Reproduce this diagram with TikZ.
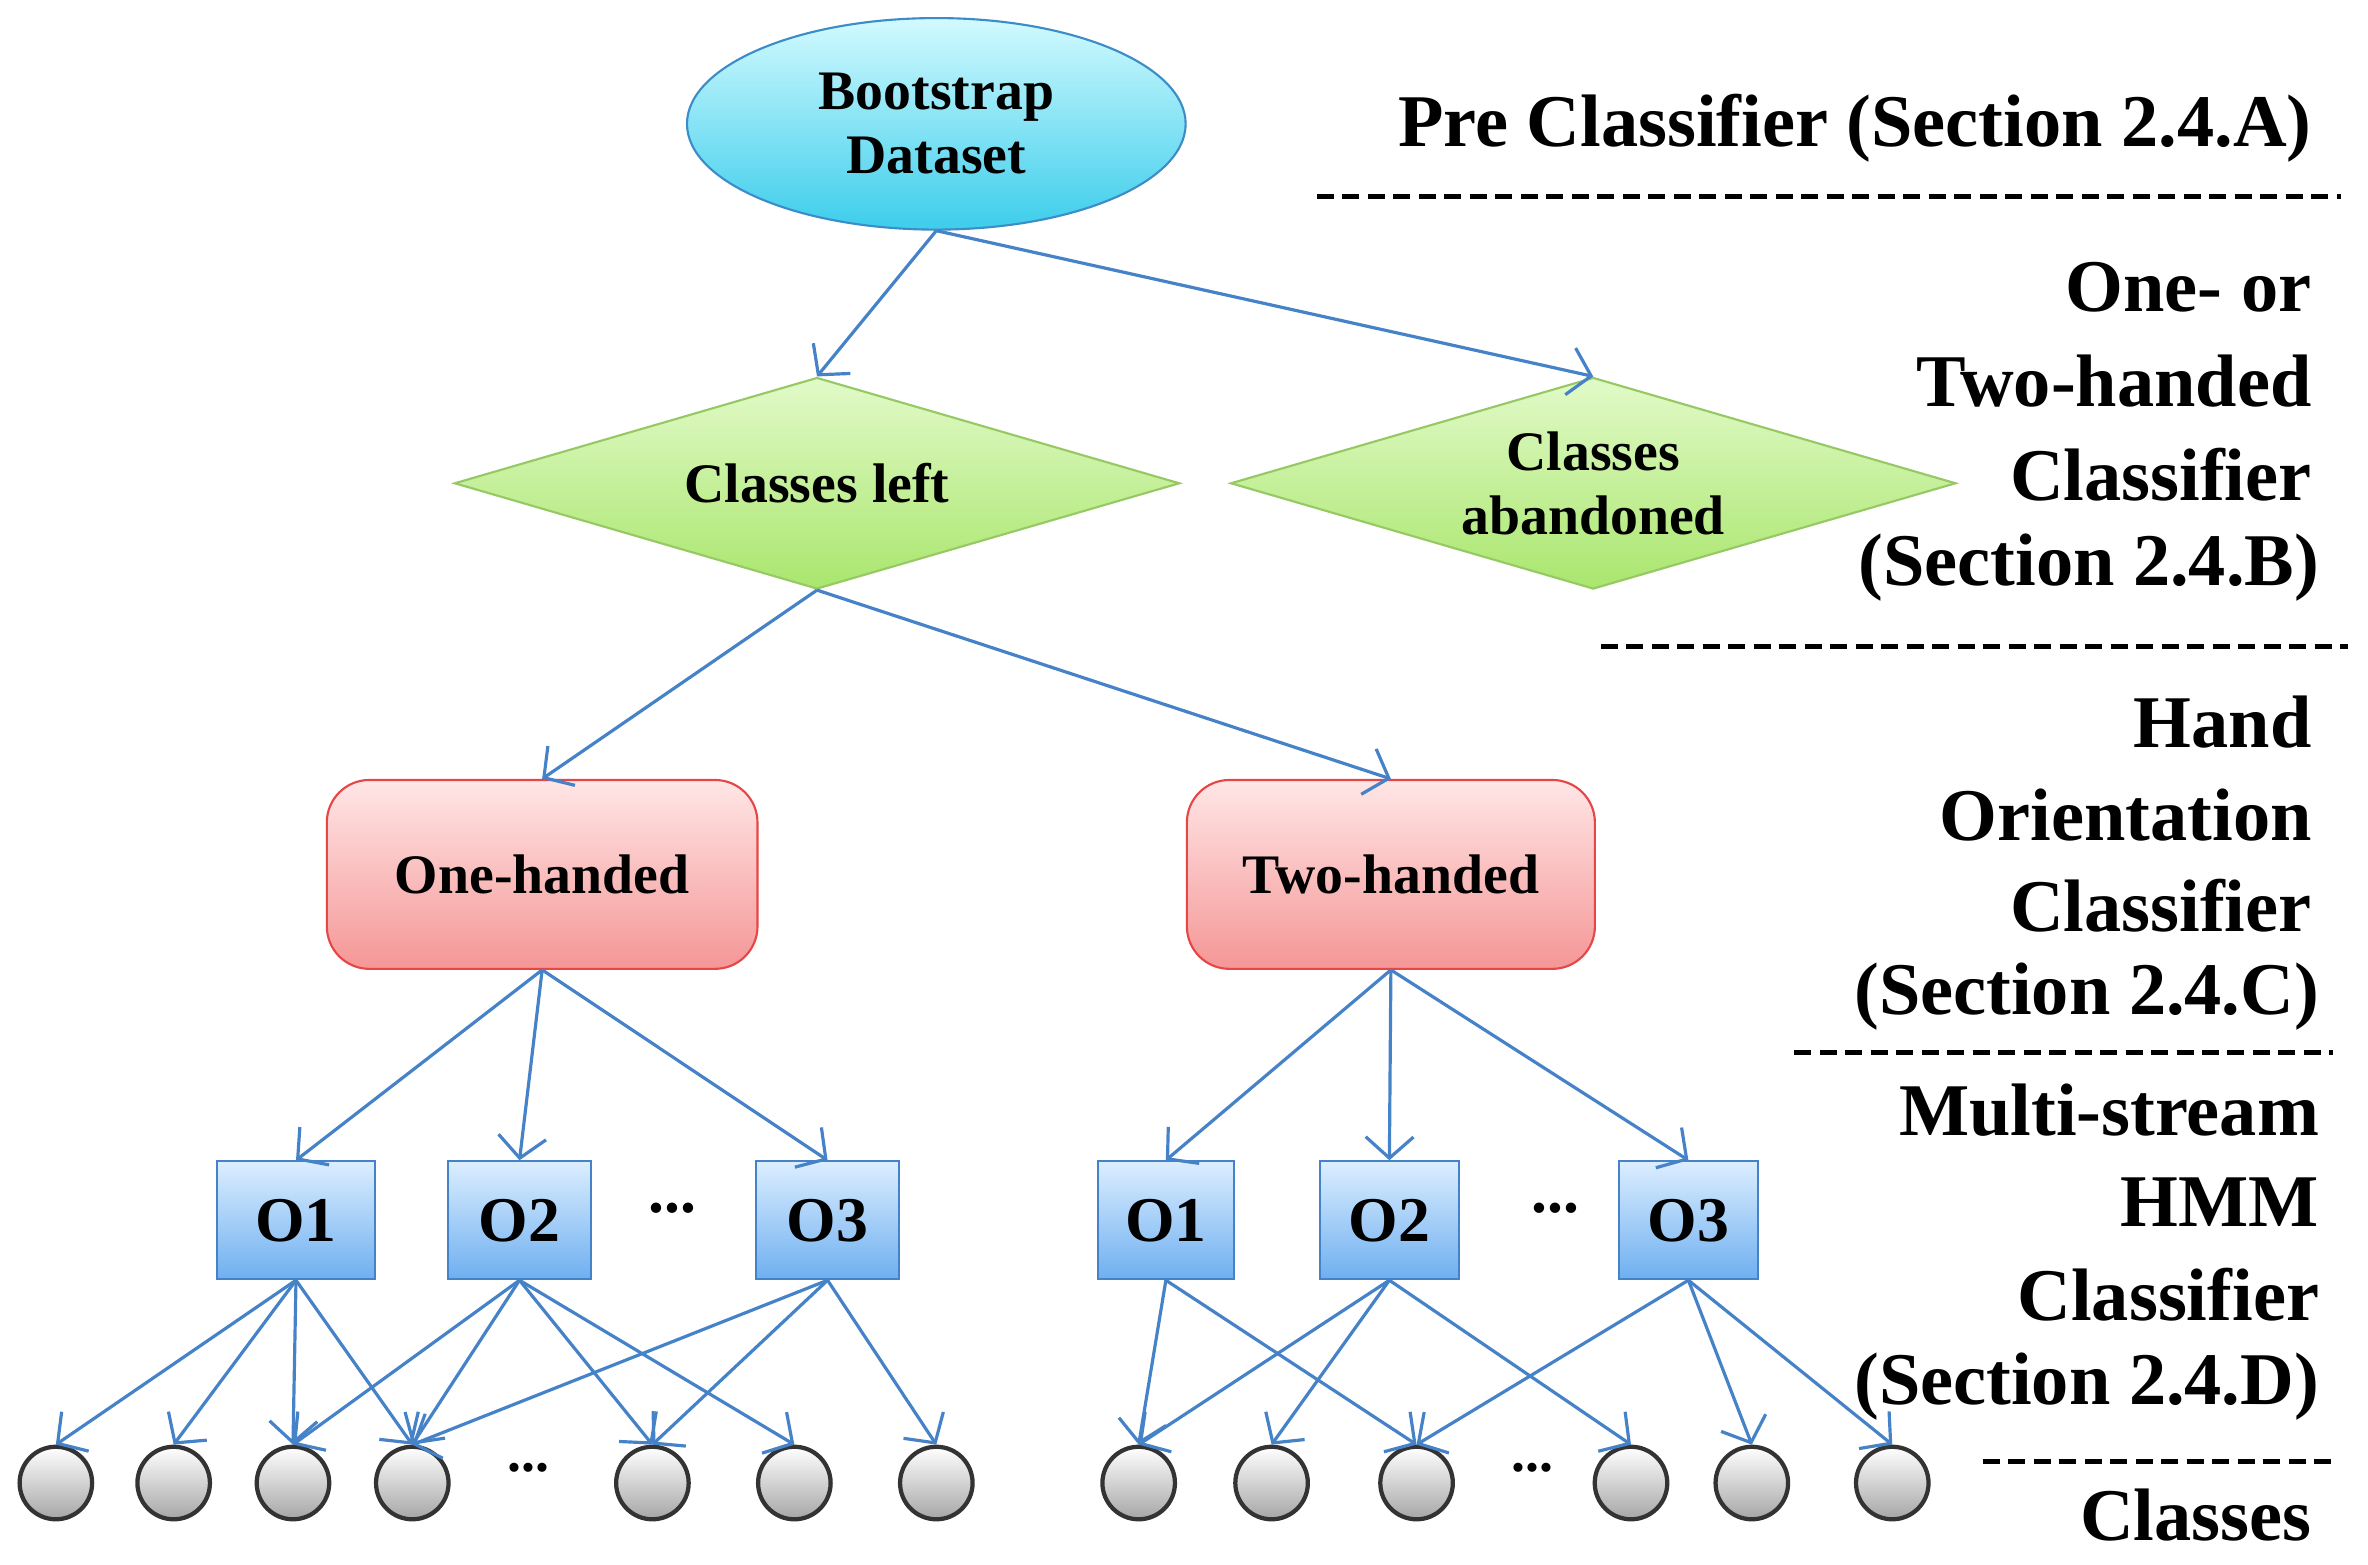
\documentclass[tikz,border=0pt]{standalone}
\usepackage{fontspec}
\setmainfont{Liberation Serif}
\usetikzlibrary{shapes.geometric,arrows.meta}
\begin{document}
\begin{tikzpicture}[x=0.01cm,y=-0.01cm,
  every node/.style={font=\fontsize{10.5pt}{12pt}\selectfont\bfseries, align=center},
  arr/.style={draw={rgb,255:red,70;green,130;blue,200}, line width=0.6pt, -{Straight Barb[length=4pt,width=9pt]}},
  ell/.style={ellipse, draw={rgb,255:red,60;green,140;blue,200}, top color={rgb,255:red,210;green,250;blue,255}, bottom color={rgb,255:red,60;green,205;blue,235}, minimum width=3.3cm, minimum height=1.4cm, inner sep=0},
  dia/.style={diamond, draw={rgb,255:red,150;green,200;blue,100}, top color={rgb,255:red,225;green,250;blue,200}, bottom color={rgb,255:red,170;green,230;blue,110}, aspect=3.4, inner sep=0, minimum width=4.8cm, minimum height=1.4cm},
  hb/.style={rounded corners=8pt, draw={rgb,255:red,230;green,70;blue,70}, top color={rgb,255:red,255;green,230;blue,230}, bottom color={rgb,255:red,245;green,150;blue,150}, minimum height=1.25cm},
  ob/.style={draw={rgb,255:red,70;green,130;blue,200}, top color={rgb,255:red,220;green,238;blue,255}, bottom color={rgb,255:red,110;green,175;blue,240}, minimum height=0.78cm, font=\fontsize{12pt}{14pt}\selectfont\bfseries},
  cl/.style={circle, draw=black!80, thick, top color=white, bottom color=black!35, minimum size=0.48cm, inner sep=0},
  rt/.style={anchor=east, font=\fontsize{14pt}{16pt}\selectfont\bfseries},
  dl/.style={draw=black, line width=0.9pt, dash pattern=on 3.2pt off 1.6pt}]
\useasboundingbox (0,0) rectangle (1568,1036);
\node[ell] (bd) at (620,82) {Bootstrap\\Dataset};
\node[dia] (cl) at (541,320) {Classes left};
\node[dia] (ca) at (1055,320) {Classes\\abandoned};
\node[hb, minimum width=2.85cm] (oh) at (359,579) {One-handed};
\node[hb, minimum width=2.7cm] (th) at (921,579) {Two-handed};
\node[ob, minimum width=1.05cm] (a1) at (196,808) {O1};
\node[ob, minimum width=0.95cm] (a2) at (344,808) {O2};
\node[ob, minimum width=0.95cm] (a3) at (548,808) {O3};
\node (ad) at (445,800) {\fontsize{12pt}{14pt}\selectfont ...};
\node[ob, minimum width=0.9cm] (b1) at (772,808) {O1};
\node[ob, minimum width=0.92cm] (b2) at (920,808) {O2};
\node[ob, minimum width=0.92cm] (b3) at (1118,808) {O3};
\node (bdd) at (1030,800) {\fontsize{12pt}{14pt}\selectfont ...};
\foreach \n/\x in {l1/37,l2/115,l3/194,l4/273,l5/432,l6/526,l7/620,r1/754,r2/842,r3/938,r4/1080,r5/1160,r6/1253}
  \node[cl] (\n) at (\x,982) {};
\node (ld) at (350,972) {...};
\node (rd) at (1015,972) {...};
\draw[arr] (bd.south) -- (cl.north);
\draw[arr] (bd.south) -- (ca.north);
\draw[arr] (cl.south) -- (oh.north);
\draw[arr] (cl.south) -- (th.north);
\foreach \t in {a1,a2,a3} \draw[arr] (oh.south) -- (\t.north);
\foreach \t in {b1,b2,b3} \draw[arr] (th.south) -- (\t.north);
\foreach \s/\t in {a1/l1,a1/l2,a1/l3,a1/l4,a2/l3,a2/l4,a2/l5,a2/l6,a3/l4,a3/l5,a3/l7,
  b1/r1,b1/r3,b2/r1,b2/r2,b2/r4,b3/r3,b3/r5,b3/r6}
  \draw[arr] (\s.south) -- (\t.north);
\node[rt] (t1) at (1543,85) {Pre Classifier (Section 2.4.A)};
\draw[dl] (872,130) -- (1550,130);
\node[rt] at (1543,190) {One- or};
\node[rt] at (1543,252) {Two-handed};
\node[rt] at (1543,314) {Classifier};
\node[rt] at (1548,376) {(Section 2.4.B)};
\draw[dl] (1060,428) -- (1555,428);
\node[rt] at (1543,478) {Hand};
\node[rt] at (1543,540) {Orientation};
\node[rt] at (1543,600) {Classifier};
\node[rt] at (1548,660) {(Section 2.4.C)};
\draw[dl] (1188,697) -- (1545,697);
\node[rt] at (1548,735) {Multi-stream};
\node[rt] at (1548,796) {HMM};
\node[rt] at (1548,857) {Classifier};
\node[rt] at (1548,918) {(Section 2.4.D)};
\draw[dl] (1313,968) -- (1548,968);
\node[rt] at (1543,1003) {Classes};
\end{tikzpicture}
\end{document}
